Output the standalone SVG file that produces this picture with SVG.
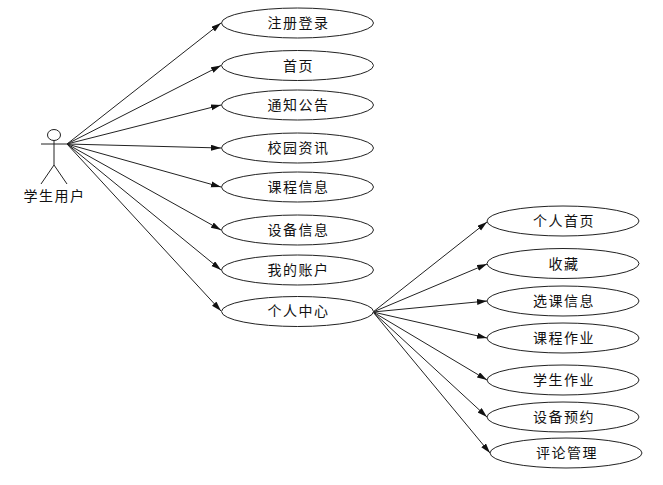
<svg xmlns="http://www.w3.org/2000/svg" width="663" height="485" viewBox="0 0 663 485">
<style>
.n ellipse{fill:#fff;stroke:#222;stroke-width:1}
.a ellipse,.a path{fill:#fff;stroke:#222;stroke-width:1}
text{font-family:"Noto Sans CJK SC","Liberation Sans",sans-serif;font-size:14px;letter-spacing:1.5px;text-anchor:middle;fill:#111}
#connectors line{stroke:#222;stroke-width:1;marker-end:url(#h)}
</style>
<defs><marker id="h" markerUnits="userSpaceOnUse" markerWidth="11" markerHeight="7" refX="10" refY="3" orient="auto"><path d="M0 0L10 3L0 6z" fill="#111"/></marker></defs>
<g id="connectors">
<line x1="67" y1="144" x2="221" y2="23"/>
<line x1="67" y1="144" x2="221" y2="65.500"/>
<line x1="67" y1="144" x2="221" y2="105"/>
<line x1="67" y1="144" x2="221" y2="148"/>
<line x1="67" y1="144" x2="221" y2="187"/>
<line x1="67" y1="144" x2="221" y2="230"/>
<line x1="67" y1="144" x2="221" y2="270"/>
<line x1="67" y1="144" x2="221" y2="311"/>
<line x1="373" y1="312" x2="487" y2="222"/>
<line x1="373" y1="312" x2="487" y2="264"/>
<line x1="373" y1="312" x2="487" y2="301"/>
<line x1="373" y1="312" x2="487" y2="338"/>
<line x1="373" y1="312" x2="487" y2="380"/>
<line x1="373" y1="312" x2="487" y2="417"/>
<line x1="373" y1="312" x2="490" y2="453"/>
</g>
<g id="actor" class="a"><ellipse cx="54" cy="135" rx="6.500" ry="5.500"/><path d="M54 140.500V165M41 144H67M41 184L54 165L67 184" fill="none"/><text x="54.500" y="201">学生用户</text></g>
<g id="n1" class="n"><ellipse cx="297.500" cy="23" rx="76" ry="15"/><text x="298.500" y="28">注册登录</text></g>
<g id="n2" class="n"><ellipse cx="297.500" cy="65.500" rx="76" ry="15"/><text x="298.500" y="71">首页</text></g>
<g id="n3" class="n"><ellipse cx="297.500" cy="105" rx="76" ry="15"/><text x="298.500" y="110">通知公告</text></g>
<g id="n4" class="n"><ellipse cx="297.500" cy="148" rx="76" ry="15"/><text x="298.500" y="153">校园资讯</text></g>
<g id="n5" class="n"><ellipse cx="297.500" cy="187" rx="76" ry="15"/><text x="298.500" y="192">课程信息</text></g>
<g id="n6" class="n"><ellipse cx="297.500" cy="230" rx="76" ry="15"/><text x="298.500" y="235">设备信息</text></g>
<g id="n7" class="n"><ellipse cx="297.500" cy="270" rx="76" ry="15"/><text x="298.500" y="275">我的账户</text></g>
<g id="n8" class="n"><ellipse cx="297.500" cy="311.500" rx="76" ry="15"/><text x="298.500" y="316">个人中心</text></g>
<g id="n9" class="n"><ellipse cx="563" cy="221" rx="76" ry="15"/><text x="564" y="226">个人首页</text></g>
<g id="n10" class="n"><ellipse cx="563" cy="263.500" rx="76" ry="15"/><text x="564" y="269">收藏</text></g>
<g id="n11" class="n"><ellipse cx="563" cy="301" rx="76" ry="15"/><text x="564" y="306">选课信息</text></g>
<g id="n12" class="n"><ellipse cx="563" cy="338" rx="76" ry="15"/><text x="564" y="343">课程作业</text></g>
<g id="n13" class="n"><ellipse cx="563" cy="380" rx="76" ry="15"/><text x="564" y="385">学生作业</text></g>
<g id="n14" class="n"><ellipse cx="563" cy="417" rx="76" ry="15"/><text x="564" y="422">设备预约</text></g>
<g id="n15" class="n"><ellipse cx="566" cy="453" rx="76" ry="15"/><text x="567" y="458">评论管理</text></g>
</svg>
